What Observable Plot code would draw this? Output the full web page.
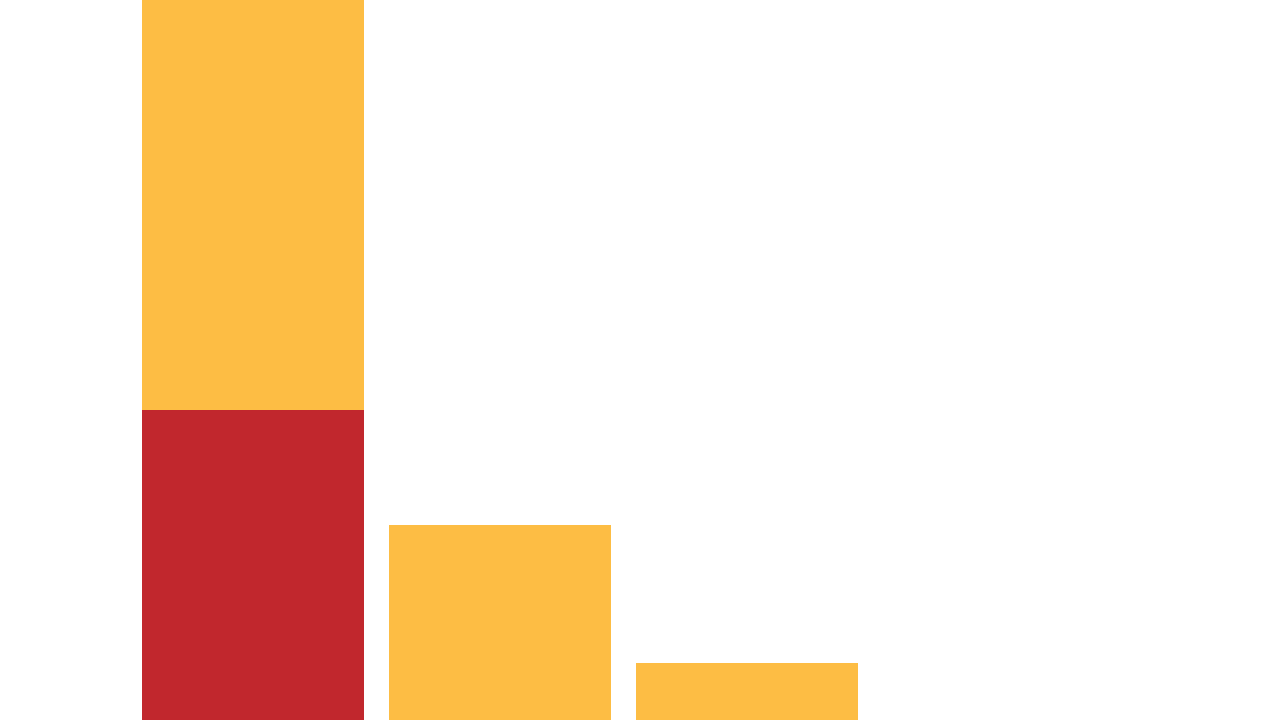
<!DOCTYPE html>
<html>
<head>
<meta charset="utf-8">
<script src="https://cdn.jsdelivr.net/npm/d3@7"></script>
<script src="https://cdn.jsdelivr.net/npm/@observablehq/plot@0.6"></script>
<style>
  html, body { margin: 0; padding: 0; background: #ffffff; overflow: hidden; }
  #chart svg { display: block; }
</style>
</head>
<body>
<div id="chart"></div>
<script>
const categories = ["A", "B", "C"];
const seriesNames = ["Lower", "Upper"];
const lowerValues = [62, 0, 0];
const upperValues = [90, 39, 11.4];
const seriesColors = ["#c1272d", "#fdbd44"];

const rows = [];
categories.forEach((c, i) => {
  rows.push({cat: c, series: seriesNames[0], value: lowerValues[i]});
  rows.push({cat: c, series: seriesNames[1], value: upperValues[i]});
});

const chart = Plot.plot({
  width: 1280,
  height: 720,
  margin: 0,
  style: {background: "#ffffff"},
  x: {domain: categories, range: [117, 883], paddingInner: 0.1, paddingOuter: 0.1, axis: null},
  y: {domain: [0, 144], axis: null},
  color: {domain: seriesNames, range: seriesColors},
  marks: [
    Plot.barY(rows, Plot.stackY({x: "cat", y: "value", fill: "series", order: seriesNames, clip: true}))
  ]
});
document.getElementById("chart").appendChild(chart);
</script>
</body>
</html>
